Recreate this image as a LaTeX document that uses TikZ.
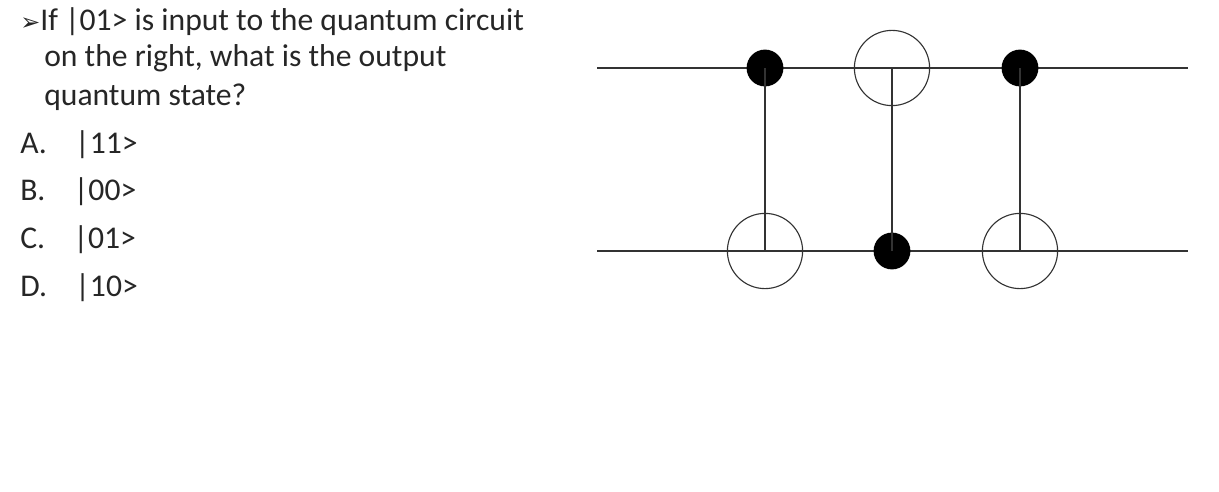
\documentclass[tikz,border=0pt]{standalone}
\usepackage{fontspec}
\setmainfont{Carlito}
\newfontfamily\symfont{DejaVu Sans}
\begin{document}
\begin{tikzpicture}[x=0.025cm,y=-0.025cm,
  wire/.style={line width=1pt,draw=black!80},
  ctrl/.style={circle,fill=black,minimum size=0.92cm,inner sep=0},
  targ/.style={circle,draw=black!80,line width=0.8pt,minimum size=1.88cm,inner sep=0},
  txt/.style={anchor=west,inner sep=0,font=\fontsize{22.5}{26}\selectfont,text=black!85}]
\useasboundingbox (0,0) rectangle (1219,492);
\coordinate (t0) at (597,68); \coordinate (t1) at (1188,68);
\coordinate (b0) at (597,251); \coordinate (b1) at (1188,251);
\draw[wire] (t0) -- (t1);
\draw[wire] (b0) -- (b1);
\node[ctrl] (c1) at (765,68) {};
\node[targ] (g1) at (765,251) {};
\node[targ] (g2) at (892,68) {};
\node[ctrl] (c2) at (892,251) {};
\node[ctrl] (c3) at (1020,68) {};
\node[targ] (g3) at (1020,251) {};
\draw[wire,line width=0.8pt] (c1.center) -- (g1.center);
\draw[wire,line width=0.8pt] (c2.center) -- (g2.center);
\draw[wire,line width=0.8pt] (c3.center) -- (g3.center);
\node[txt] (q1) at (20,22) {{\symfont\fontsize{17}{17}\selectfont ➢}If |01> is input to the quantum circuit};
\node[txt] (q2) at (44,58) {on the right, what is the output};
\node[txt] (q3) at (44,97) {quantum state?};
\node[txt] (a) at (20,145) {A.\hspace{0.9em}|11>};
\node[txt] (b) at (20,192) {B.\hspace{0.9em}|00>};
\node[txt] (c) at (20,240) {C.\hspace{0.9em}|01>};
\node[txt] (d) at (20,288) {D.\hspace{0.9em}|10>};
\end{tikzpicture}
\end{document}
